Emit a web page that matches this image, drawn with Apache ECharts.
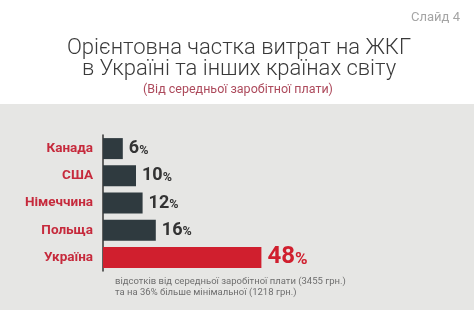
<!DOCTYPE html>
<html>
<head>
<meta charset="utf-8">
<script src="https://cdn.jsdelivr.net/npm/echarts@6/dist/echarts.min.js"></script>
<style>
  html, body { margin: 0; padding: 0; background: #ffffff; }
  #chart { width: 474px; height: 333px; }
</style>
</head>
<body>
<div id="chart"></div>
<script>
// Approximate share of income spent on housing and utilities
const countries = ['Канада', 'США', 'Німеччина', 'Польща', 'Україна'];
const shares = [6, 10, 12, 16, 48];
const highlighted = 'Україна';

const titleLines = 'Орієнтовна частка витрат на ЖКГ\nв Україні та інших країнах світу';
const subtitle = '(Від середньої заробітної плати)';
const slideLabel = 'Слайд 4';
const footnote = 'відсотків від середньої заробітної плати (3455 грн.)\nта на 36% більше мінімальної (1218 грн.)';

const DARK = '#2f3a3f';
const RED = '#d01f2e';
const LABEL_RED = '#c62a3c';
const FONT = 'Roboto, "DejaVu Sans", sans-serif';

const chart = echarts.init(document.getElementById('chart'), null, { renderer: 'canvas' });

chart.setOption({
  backgroundColor: '#ffffff',
  animation: false,
  graphic: [
    {
      type: 'rect',
      z: -10,
      shape: { x: 0, y: 104, width: 474, height: 206 },
      style: { fill: '#e6e6e4' }
    }
  ],
  title: [
    {
      text: slideLabel,
      right: 9,
      top: 6,
      textStyle: { fontFamily: FONT, fontSize: 13, fontWeight: 'normal', color: '#a5a5a5' }
    },
    {
      text: titleLines,
      left: 234,
      top: 33,
      textAlign: 'center',
      textStyle: { fontFamily: FONT, fontSize: 22, fontWeight: 300, color: '#3a3a3a', lineHeight: 21 }
    },
    {
      text: subtitle,
      left: 233,
      top: 78,
      textAlign: 'center',
      textStyle: { fontFamily: FONT, fontSize: 12.5, fontWeight: 'normal', color: '#ad4a5c' }
    },
    {
      text: footnote,
      left: 110,
      top: 271,
      textStyle: { fontFamily: FONT, fontSize: 9.5, fontWeight: 'normal', color: '#6f6f6f', lineHeight: 11 }
    }
  ],
  grid: { left: 103, top: 135, width: 330, height: 136 },
  xAxis: {
    type: 'value',
    min: 0,
    max: 100,
    show: false
  },
  yAxis: {
    type: 'category',
    inverse: true,
    data: countries,
    axisLine: { show: true, lineStyle: { color: '#333333', width: 1.5 } },
    axisTick: { show: false },
    axisLabel: {
      margin: 10,
      fontFamily: FONT,
      fontSize: 13.5,
      fontWeight: 'bold',
      color: LABEL_RED
    }
  },
  series: [
    {
      type: 'bar',
      barWidth: 21,
      data: shares.map((v, i) => ({
        value: v,
        itemStyle: { color: countries[i] === highlighted ? RED : DARK },
        label: countries[i] === highlighted
          ? { formatter: '{big|{c}}{bigp|%}' }
          : { formatter: '{n|{c}}{p|%}' }
      })),
      label: {
        show: true,
        position: 'right',
        distance: 6,
        rich: {
          n: { fontFamily: FONT, fontSize: 18, fontWeight: 'bold', color: '#333333' },
          p: { fontFamily: FONT, fontSize: 12.5, fontWeight: 'bold', color: '#333333', padding: [4, 0, 0, 0] },
          big: { fontFamily: FONT, fontSize: 24, fontWeight: 'bold', color: RED },
          bigp: { fontFamily: FONT, fontSize: 17, fontWeight: 'bold', color: RED, padding: [4, 0, 0, 0] }
        }
      }
    }
  ]
});
</script>
</body>
</html>
